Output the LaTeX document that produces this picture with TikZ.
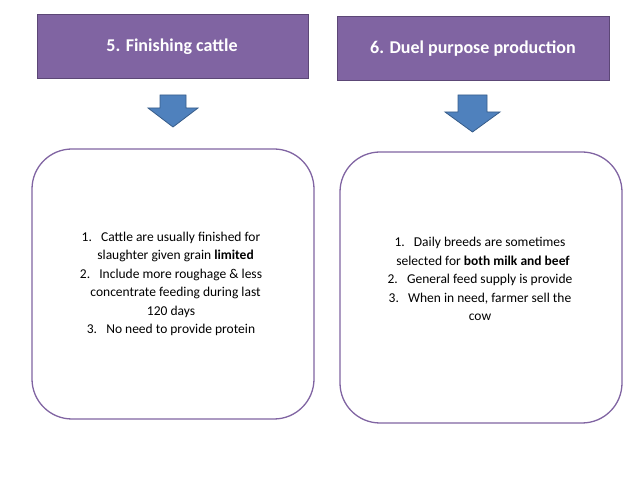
\documentclass[tikz,border=0pt]{standalone}
\usepackage{fontspec}
\setmainfont{Carlito}
\definecolor{hdr}{HTML}{8064A2}
\definecolor{hdrb}{HTML}{5C4776}
\definecolor{arr}{HTML}{4F81BD}
\definecolor{arrb}{HTML}{385D8A}
\begin{document}
\begin{tikzpicture}[x=1pt,y=-1pt,
 header/.style={draw=hdrb,fill=hdr,line width=1pt,text=white,font=\fontsize{18}{20}\selectfont\bfseries},
 panel/.style={draw=hdr,line width=1.3pt,rounded corners=40pt},
 body/.style={align=center,font=\fontsize{13.5}{18.5}\selectfont},
 darrow/.style={draw=arrb,fill=arr,line width=0.8pt}]
\useasboundingbox (0,0) rectangle (638,478);
\draw[header] (37,15) rectangle (308,79);
\node[text=white,font=\fontsize{18}{20}\selectfont\bfseries] (h1) at (172,47) {5. Finishing cattle};
\draw[header] (337,17) rectangle (609,81);
\node[text=white,font=\fontsize{18}{20}\selectfont\bfseries] (h2) at (473,49) {6. Duel purpose production};
\draw[darrow] (160,95) -- (186,95) -- (186,108) -- (198,108) -- (173,127) -- (148,108) -- (160,108) -- cycle;
\draw[darrow] (458,95) -- (487,95) -- (487,112) -- (500,112) -- (472.5,132) -- (445,112) -- (458,112) -- cycle;
\draw[panel] (32,149) rectangle (314,419);
\draw[panel] (340,152) rectangle (622,423);
\node[body] (t1) at (171,284) {1.\ \ \ Cattle are usually finished for\\
\ \ \ slaughter given grain \textbf{limited}\\
2.\ \ \ Include more roughage \& less\\
\ \ \ concentrate feeding during last\\
120 days\\
3.\ \ \ No need to provide protein};
\node[body] (t2) at (480,279) {1.\ \ \ Daily breeds are sometimes\\
\ \ selected for \textbf{both milk and beef}\\
2.\ \ \ General feed supply is provide\\
3.\ \ \ When in need, farmer sell the\\
cow};
\end{tikzpicture}
\end{document}
